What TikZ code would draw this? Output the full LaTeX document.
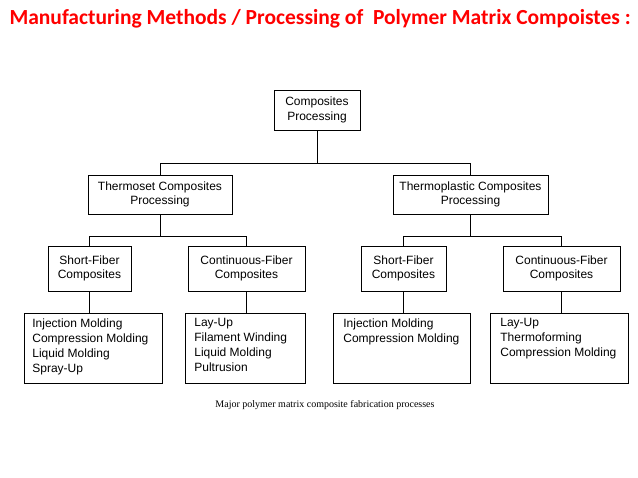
\documentclass[tikz,border=0pt]{standalone}
\usepackage{fontspec}
\setmainfont{Liberation Sans}
\newfontfamily\titlef{Carlito}
\newfontfamily\capf{Liberation Serif}
\begin{document}
\begin{tikzpicture}[x=1pt,y=-1pt,
  box/.style={draw,line width=0.8pt,inner sep=0pt,align=center,font=\fontsize{12}{14.5}\selectfont},
  leaf/.style={draw,line width=0.8pt,inner sep=0pt,anchor=north west,font=\fontsize{12}{15}\selectfont},
  con/.style={line width=0.8pt}]
\useasboundingbox[fill=white] (0,0) rectangle (638,478);
\node[font=\titlef\bfseries\fontsize{21.5}{24}\selectfont,text=red,anchor=west] (title) at (6,19) {Manufacturing Methods / Processing of \ Polymer Matrix Compoistes :};
\node[box,minimum width=86pt,minimum height=40pt] (cp) at (317,110) {Composites\\Processing};
\node[box,minimum width=144pt,minimum height=39pt] (ts) at (160,194.5) {Thermoset Composites\\Processing};
\node[box,minimum width=155pt,minimum height=39pt] (tp) at (470.5,194.5) {Thermoplastic Composites\\Processing};
\node[box,minimum width=83pt,minimum height=45pt] (s1) at (89.5,268.5) {Short-Fiber\\Composites};
\node[box,minimum width=117pt,minimum height=45pt] (c1) at (246.5,268.5) {Continuous-Fiber\\Composites};
\node[box,minimum width=85pt,minimum height=45pt] (s2) at (403.5,268.5) {Short-Fiber\\Composites};
\node[box,minimum width=117pt,minimum height=45pt] (c2) at (561.5,268.5) {Continuous-Fiber\\Composites};
\node[leaf] (l1) at (24,313) {\hspace{8pt}\parbox[t][70pt][t]{130pt}{\vspace{5pt}Injection Molding\\Compression Molding\\Liquid Molding\\Spray-Up}};
\node[leaf] (l2) at (185,313) {\hspace{9pt}\parbox[t][70pt][t]{111pt}{\vspace{5pt}Lay-Up\\Filament Winding\\Liquid Molding\\Pultrusion}};
\node[leaf] (l3) at (333,313) {\hspace{10pt}\parbox[t][70pt][t]{127pt}{\vspace{5pt}Injection Molding\\Compression Molding}};
\node[leaf] (l4) at (490,313) {\hspace{10pt}\parbox[t][70pt][t]{128pt}{\vspace{5pt}Lay-Up\\Thermoforming\\Compression Molding}};
\node[font=\capf\fontsize{10}{12}\selectfont] (cap) at (325,405) {Major polymer matrix composite fabrication processes};
\draw[con] (cp.south) -- (317,163) -| (ts.north);
\draw[con] (317,163) -| (tp.north);
\draw[con] (ts.south) -- (160,236) -| (s1.north);
\draw[con] (160,236) -| (c1.north);
\draw[con] (tp.south) -- (470.5,236) -| (s2.north);
\draw[con] (470.5,236) -| (c2.north);
\draw[con] (s1.south) -- (s1.south|-l1.north);
\draw[con] (c1.south) -- (c1.south|-l2.north);
\draw[con] (s2.south) -- (s2.south|-l3.north);
\draw[con] (c2.south) -- (c2.south|-l4.north);
\end{tikzpicture}
\end{document}
